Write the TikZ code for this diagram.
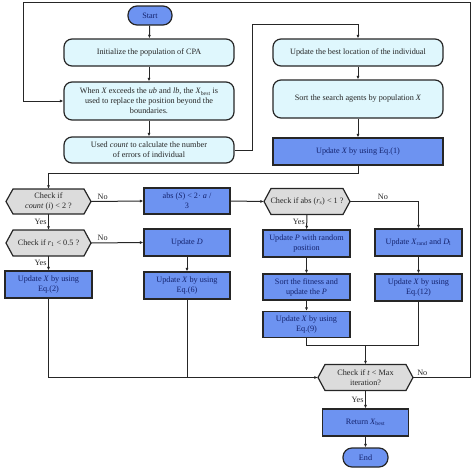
\documentclass[tikz,border=0pt]{standalone}
\usepackage{fontspec}
\setmainfont{Liberation Serif}
\usetikzlibrary{arrows.meta,calc}
\definecolor{cyanf}{HTML}{DFF7FD}
\definecolor{bluef}{HTML}{6D93F1}
\definecolor{grayf}{HTML}{DCDCDC}
\definecolor{navy}{HTML}{14236E}
\definecolor{edgec}{HTML}{262626}
\newcommand{\hexnode}[6]{%
  \path[hexline] ({#2-#4/2},#3) -- ({#2-#4/2+7},{#3-#5/2}) -- ({#2+#4/2-7},{#3-#5/2}) -- ({#2+#4/2},#3) -- ({#2+#4/2-7},{#3+#5/2}) -- ({#2-#4/2+7},{#3+#5/2}) -- cycle;
  \node[hexbox, minimum width=#4, minimum height=#5] (#1) at (#2,#3) {#6};}
\begin{document}
\begin{tikzpicture}[x=1pt,y=-1pt,
  base/.style={font=\fontsize{8.2}{10}\selectfont, align=center, inner sep=1pt, line width=1.2pt, draw=edgec},
  cyanbox/.style={base, fill=cyanf, rounded corners=8pt, text=black!85},
  bluebox/.style={base, fill=bluef, text=navy},
  term/.style={base, fill=bluef, rounded corners=9pt, text=navy},
  hexbox/.style={font=\fontsize{8.2}{10}\selectfont, align=center, inner sep=0pt, text=black!85},
  hexline/.style={line width=1.2pt, draw=edgec, fill=grayf},
  lbl/.style={font=\fontsize{8.2}{10}\selectfont, text=black!85, inner sep=1.5pt},
  arr/.style={line width=1pt, draw=edgec, -{Latex[length=3.5pt,width=3pt]}},
  ln/.style={line width=1pt, draw=edgec},
]
\useasboundingbox (0,0) rectangle (474,474);

% left column top
\node[term, minimum width=44, minimum height=19] (start) at (150,15.5) {Start};
\node[cyanbox, minimum width=170, minimum height=27] (init) at (149,52.5) {Initialize the population of CPA};
\node[cyanbox, minimum width=170, minimum height=38] (bound) at (149,101) {When \textit{X} exceeds the \textit{ub} and \textit{lb}, the \textit{X}\textsubscript{best} is\\ used to replace the position beyond the\\ boundaries.};
\node[cyanbox, minimum width=170, minimum height=26] (count) at (149,150) {Used \textit{count} to calculate the number\\ of errors of individual};

% right column top
\node[cyanbox, minimum width=170, minimum height=27] (best) at (358,52.5) {Update the best location of the individual};
\node[cyanbox, minimum width=170, minimum height=38] (sort) at (358,99) {Sort the search agents by population \textit{X}};
\node[bluebox, minimum width=170, minimum height=27] (eq1) at (358,151.5) {Update \textit{X} by using Eq.(1)};

% decision row
\hexnode{chk1}{48.5}{201.5}{85}{25}{Check if\\ \textit{count} (\textit{i}) < 2 ?}
\node[bluebox, minimum width=86, minimum height=26] (abss) at (187,201) {abs (\textit{S}) < 2· \textit{a} /\\ 3};
\hexnode{chk3}{307}{201.5}{86}{26}{Check if abs (\textit{r}\textsubscript{s}) < 1 ?}
\hexnode{chk2}{48.5}{243}{85}{26}{Check if \textit{r}\textsubscript{1} < 0.5 ?}

\node[bluebox, minimum width=86, minimum height=27] (updD) at (187,242.5) {Update \textit{D}};
\node[bluebox, minimum width=87, minimum height=27] (eq2) at (48.5,284.5) {Update \textit{X} by using\\ Eq.(2)};
\node[bluebox, minimum width=86, minimum height=27] (eq6) at (187,285.5) {Update \textit{X} by using\\ Eq.(6)};
\node[bluebox, minimum width=87, minimum height=27] (updP) at (306.5,243.5) {Update \textit{P} with random\\ position};
\node[bluebox, minimum width=87, minimum height=26] (sortfit) at (306.5,287) {Sort the fitness and\\ update the \textit{P}};
\node[bluebox, minimum width=87, minimum height=26] (eq9) at (306.5,324.5) {Update \textit{X} by using\\ Eq.(9)};
\node[bluebox, minimum width=87, minimum height=27] (xrand) at (418.5,242.5) {Update \textit{X}\textsubscript{rand} and \textit{D}\textsubscript{l}};
\node[bluebox, minimum width=87, minimum height=27] (eq12) at (418.5,287.5) {Update \textit{X} by using\\ Eq.(12)};

\hexnode{chk4}{365.5}{377.5}{95}{26}{Check if \textit{t} < Max\\ iteration?}
\node[bluebox, minimum width=86, minimum height=27] (ret) at (365.5,422.5) {Return \textit{X}\textsubscript{best}};
\node[term, minimum width=45, minimum height=19] (end) at (365.5,457.5) {End};

% coordinates
\coordinate (c1) at (252,24);
\coordinate (c2) at (48.5,173);
\coordinate (j) at (365.5,345);
\coordinate (tr) at (470,2);
\coordinate (tl) at (23,2);

% connectors
\draw[arr] (start) -- (init);
\draw[arr] (init) -- (bound);
\draw[arr] (bound) -- (count);
\draw[arr] (count.east) -| (c1) -| (best.north);
\draw[arr] (best) -- (sort);
\draw[arr] (sort) -- (eq1);
\draw[arr] (eq1.south) |- (c2) -- (chk1.north);
\draw[arr] (chk1) -- node[lbl,left]{Yes} (chk2);
\draw[arr] (chk2) -- node[lbl,left]{Yes} (eq2);
\draw[arr] (chk1.east) -- node[lbl,above,pos=0.22]{No} (abss.west);
\draw[arr] (chk2.east) -- node[lbl,above,pos=0.22]{No} (updD.west);
\draw[arr] (abss.east) -- (chk3.west);
\draw[arr] (chk3) -- node[lbl,left]{Yes} (updP);
\draw[arr] (chk3.east) -| node[lbl,above,pos=0.24]{No} (xrand.north);
\draw[arr] (updD) -- (eq6);
\draw[arr] (updP) -- (sortfit);
\draw[arr] (sortfit) -- (eq9);
\draw[arr] (xrand) -- (eq12);
\draw[ln] (eq9.south) |- (j);
\draw[ln] (eq12.south) |- (j);
\draw[arr] (j) -- (chk4.north);
\draw[arr] (eq2.south) |- (chk4.west);
\draw[ln] (eq6.south) -- (eq6.south |- chk4.west);
\draw[arr] (chk4.east) -| node[lbl,above,pos=0.08]{No} (tr) -| (tl) |- (bound.west);
\draw[arr] (chk4) -- node[lbl,left]{Yes} (ret);
\draw[arr] (ret) -- (end);
\end{tikzpicture}
\end{document}
